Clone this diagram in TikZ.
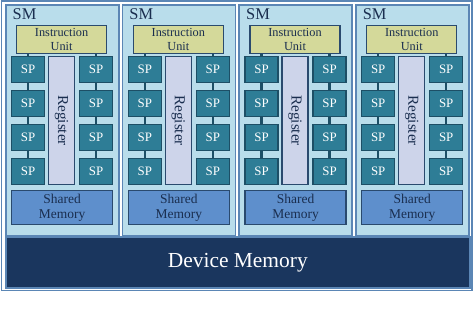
\documentclass[tikz,border=0pt]{standalone}
\usepackage{fontspec}
\setmainfont{Liberation Serif}
\usetikzlibrary{positioning}
\definecolor{cFrame}{HTML}{5B86B5}
\definecolor{cSM}{HTML}{B9DDEB}
\definecolor{cInk}{HTML}{1A2E4F}
\definecolor{cEdge}{HTML}{2A4A6E}
\definecolor{cIU}{HTML}{D4D99A}
\definecolor{cSP}{HTML}{2E7D96}
\definecolor{cSPedge}{HTML}{1D4F66}
\definecolor{cReg}{HTML}{CDD4EA}
\definecolor{cShared}{HTML}{5E8FCC}
\definecolor{cDev}{HTML}{1A365E}
\tikzset{
  smbox/.style={draw=cFrame,fill=cSM,line width=1.3pt,anchor=north west,inner sep=0pt,minimum width=3.39cm,minimum height=6.93cm},
  smlbl/.style={anchor=base west,inner sep=0pt,font=\fontsize{14}{14}\selectfont,text=cInk},
  iubox/.style={draw=cEdge,fill=cIU,line width=1.1pt,anchor=north west,inner sep=0pt,minimum width=2.7cm,minimum height=0.84cm,align=center,font=\fontsize{10.5}{12}\selectfont,text=cInk},
  spbox/.style={draw=cSPedge,fill=cSP,line width=1.1pt,anchor=north west,inner sep=0pt,minimum width=0.99cm,minimum height=0.78cm,font=\fontsize{11}{11}\selectfont,text=white},
  regbox/.style={draw=cEdge,fill=cReg,line width=1.1pt,anchor=north west,inner sep=0pt,minimum width=0.78cm,minimum height=3.84cm},
  shbox/.style={draw=cEdge,fill=cShared,line width=1.1pt,anchor=north west,inner sep=0pt,minimum width=3.03cm,minimum height=1.02cm,align=center,font=\fontsize{11.5}{13}\selectfont,text=cInk},
  devbox/.style={draw=cFrame,fill=cDev,line width=1.3pt,anchor=north west,inner sep=0pt,minimum width=13.92cm,minimum height=1.53cm,font=\fontsize{18.3}{18}\selectfont,text=white},
  link/.style={draw=cSPedge,line width=2pt},
}
\begin{document}
\begin{tikzpicture}[x=0.03cm,y=-0.03cm]
  \useasboundingbox (0,0) rectangle (474,322);
  \draw[cFrame,line width=1.6pt,fill=white] (1.5,1.2) rectangle (472.3,290.5);
  \foreach \k in {0,...,3}{
    \pgfmathsetmacro\ox{5+116.7*\k}
    \node[smbox] (sm\k) at (\ox,4) {};
    \node[smlbl] (sml\k) at (\ox+7.5,19.5) {SM};
    \node[iubox] (iu\k) at (\ox+11,25) {Instruction\\Unit};
    \node[regbox] (reg\k) at (\ox+43,56) {};
    \node[rotate=-90,font=\fontsize{13}{13}\selectfont,text=cInk] (regl\k) at (reg\k.center) {Register};
    \foreach \r in {1,...,4}{
      \pgfmathsetmacro\yy{56+34*(\r-1)}
      \node[spbox] (spl\k-\r) at (\ox+6,\yy) {SP};
      \node[spbox] (spr\k-\r) at (\ox+74,\yy) {SP};
    }
    \foreach \r [evaluate=\r as \rr using int(\r+1)] in {1,...,3}{
      \draw[link] (spl\k-\r.south) -- (spl\k-\rr.north);
      \draw[link] (spr\k-\r.south) -- (spr\k-\rr.north);
    }
    \draw[link] (iu\k.south -| spl\k-1.north) -- (spl\k-1.north);
    \draw[link] (iu\k.south -| spr\k-1.north) -- (spr\k-1.north);
    \node[shbox] (sh\k) at (\ox+6,190) {Shared\\Memory};
  }
  \node[devbox] (dev) at (5,236) {Device Memory};
\end{tikzpicture}
\end{document}
